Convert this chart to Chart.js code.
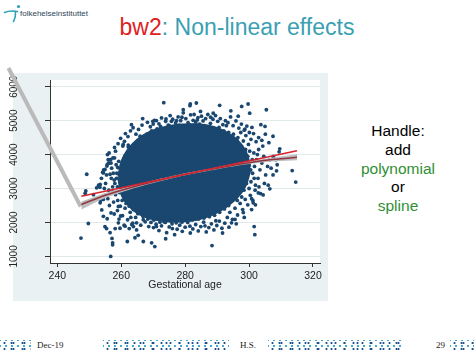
<!DOCTYPE html>
<html><head><meta charset="utf-8">
<script src="https://cdn.jsdelivr.net/npm/chart.js@4.4.1/dist/chart.umd.min.js"></script>
<style>
html,body{margin:0;padding:0;background:#fff;}
body{width:474px;height:355px;position:relative;overflow:hidden;font-family:"Liberation Sans",Arial,sans-serif;}
#panel{position:absolute;left:13px;top:73px;width:315px;height:228px;background:#eaf1f3;}
#c{position:absolute;left:0;top:0;}
#title{position:absolute;left:0;width:474px;top:15.5px;text-align:center;font-size:23px;line-height:23px;color:#3a9fb2;white-space:nowrap;}
#title .r{color:#e0201e;}
#logo{position:absolute;left:20px;top:9px;font-size:8px;line-height:10px;color:#2c4756;}
#side{position:absolute;left:338px;width:120px;top:122px;text-align:center;font-size:15.5px;line-height:18.8px;color:#000;}
#side .g{color:#2f8f34;}
.foot{position:absolute;top:340px;font-family:"Liberation Serif","Times New Roman",serif;font-size:9px;line-height:10px;color:#222;}
.dots{position:absolute;top:340px;height:11px;
 background-image:radial-gradient(circle,#1d4f8f 0.8px,transparent 1.3px),radial-gradient(circle,#43aacd 0.8px,transparent 1.3px),radial-gradient(circle,#1d4f8f 0.8px,transparent 1.3px);
 background-size:9px 6px,6px 6px,13px 6px;background-position:0 0,3px 3px,5px 0;}
</style></head>
<body>
<div id="panel"></div>
<svg style="position:absolute;left:3px;top:3px" width="18" height="20" viewBox="0 0 18 20">
 <circle cx="15.5" cy="3.5" r="1.6" fill="#2aa3b6"/>
 <path d="M1.5 9.5 Q7 7 14.5 8.5" stroke="#2aa3b6" stroke-width="1.6" fill="none" stroke-linecap="round"/>
 <path d="M12.5 8.5 Q13 14 10.5 18.5" stroke="#2aa3b6" stroke-width="1.6" fill="none" stroke-linecap="round"/>
</svg>
<div id="logo">folkehelseinstituttet</div>
<div id="title"><span class="r">bw2</span>: Non-linear effects</div>
<div id="side">Handle:<br>add<br><span class="g">polynomial</span><br>or<br><span class="g">spline</span></div>
<div class="dots" style="left:0;width:31px"></div>
<div class="foot" style="left:37px">Dec-19</div>
<div class="dots" style="left:103px;width:126px"></div>
<div class="foot" style="left:240px">H.S.</div>
<div class="dots" style="left:268px;width:134px"></div>
<div class="foot" style="left:436px">29</div>
<div class="dots" style="left:450px;width:24px"></div>
<canvas id="c" width="474" height="355"></canvas>
<script>
// ---- data ----
const xTicks = [240, 260, 280, 300, 320];
const yTicks = [1000, 2000, 3000, 4000, 5000, 6000];
const xTitle = 'Gestational age';

// dense core of the birthweight cloud (upper / lower outline)
const coreX   = [259, 260, 262, 265, 269, 274, 279, 284, 289, 293, 296.5, 299, 300.5];
const coreTop = [3350, 3800, 4150, 4450, 4680, 4830, 4890, 4900, 4820, 4660, 4420, 4100, 3650];
const coreBot = [3300, 2820, 2520, 2270, 2110, 2030, 2020, 2080, 2240, 2460, 2740, 3080, 3550];

// individual observations around the core
const obs = [
 [266.5,4870],[268.2,4950],[269.1,4820],[270.4,5010],[271.8,4905],[272.6,5080],[273.9,4980],[274.7,4870],[275.3,5150],[276.1,5040],
 [277.0,4930],[277.8,5110],[278.6,5000],[279.4,5230],[280.2,5060],[280.9,4940],[281.7,5170],[282.5,5010],[283.3,4960],[284.0,5090],
 [284.8,5270],[285.6,4990],[286.4,5060],[287.1,5180],[287.9,4920],[288.7,5040],[289.5,5150],[290.2,4980],[291.0,5060],[291.8,4880],
 [292.6,5000],[293.4,4940],[294.2,5110],[295.0,4850],[295.9,4990],[296.8,4780],[297.6,4900],[298.5,4720],[299.3,4840],[300.1,4650],
 [258.2,4100],[259.0,4320],[259.8,4480],[260.5,4250],[261.3,4620],[262.1,4530],[262.9,4700],[263.7,4790],[264.6,4600],[265.4,4740],
 [257.4,3900],[257.9,4210],[256.8,3750],[261.0,4390],[263.2,4880],
 [253.8,3300],[254.5,3550],[255.1,3150],[255.6,3700],[256.1,2950],[256.5,3420],[257.0,3600],[257.3,3050],[257.8,3250],[258.2,2820],
 [258.4,3700],[258.6,3450],[254.9,2800],[255.8,2700],[256.7,3850],[252.9,3100],[253.5,2650],[257.6,2600],[256.3,2500],[258.9,2650],
 [258.8,2350],[259.7,2480],[260.4,2200],[261.2,2420],[262.0,2080],[262.8,2300],[263.6,1980],[264.5,2150],[265.3,2270],[266.1,1920],
 [266.9,2080],[267.7,2200],[259.3,2100],[260.9,1920],[257.8,2250],[262.5,1820],[264.8,1780],[268.6,1880],
 [269.3,2000],[270.1,1850],[270.9,1950],[271.8,1760],[272.6,1900],[273.4,2020],[274.2,1700],[275.0,1870],[275.9,1960],[276.7,1640],
 [277.5,1800],[278.3,1920],[279.1,1740],[280.0,1860],[280.8,2000],[281.6,1690],[282.4,1810],[283.3,1940],[284.1,1750],[284.9,1880],
 [285.8,2010],[286.6,1720],[287.4,1850],[288.2,1960],[289.0,1780],[289.9,1910],[290.7,2040],[291.5,1830],
 [292.4,1980],[293.2,2150],[294.0,2300],[294.8,2090],[295.6,2420],[296.4,2220],[297.2,2560],[298.0,2380],[298.8,2680],[299.6,2520],
 [300.4,2800],[301.2,2650],[296.0,1960],[298.5,2150],[300.8,2380],[302.0,2520],[293.7,1860],
 [300.0,3000],[300.6,3200],[301.1,3450],[301.7,3650],[302.3,3850],[302.8,3300],[303.4,3550],[304.0,3750],[304.6,3950],[305.2,3400],
 [305.8,3650],[306.4,3850],[303.1,3050],[304.8,3150],[306.9,3600],[307.6,3900],[301.5,4050],[303.0,4150],[304.3,4250],[301.9,2950],
 [303.6,2850],[306.0,3100],
 [296.5,4500],[297.4,4650],[298.2,4400],[299.0,4560],[299.8,4300],[300.6,4450],[301.4,4620],[302.2,4380],[303.0,4500],[304.0,4420],
 [305.1,4600],[306.2,4350],[298.7,4750],[300.9,4800],
 [273.3,5530],[281.6,5490],[283.5,5520],[281.5,5440],[290.8,5450],[299.7,5490],[297.7,5420],[305.4,5320],[294.3,5290],[300.2,5220],
 [266.7,5060],[271.0,5000],[307.5,4540],[309.6,4170],[309.4,4080],[313.5,3530],[314.6,3190],[306.5,2990],[307.5,3400],[308.6,3520],
 [249.2,3420],[248.9,2930],[248.7,2860],[249.7,1970],[247.4,1540],[256.7,1000],[257.3,1400],[257.3,1340],[257.1,1530],[261.9,1440],
 [269.5,1400],[270.5,1290],[266.9,1440],[273.9,1520],[288.4,1320],[291.7,1690],[301.8,1640],[301.6,1880],[294.5,1990],[304.4,2810],
 [254.2,3480],[255.7,4000],[255.9,3850],[256.2,3750],[260.6,4300],[262.2,4280],[253.3,3040],[253.9,2370],[254.9,1880],[255.4,1820],
 [259.6,1830],[263.8,1880],[259.1,2470],[279.4,5320],[282.8,5180],[285.1,5130],[288.8,5220],[275.7,4980],[277.3,5000],[296.6,5130],
 [303.7,4880],[305.0,4830],[307.6,3950],[308.4,3850],[308.8,3700],[302.9,2870],[301.3,2580],[298.2,2290],[295.6,2090],
 [264.3,1550],[265.3,1620],[256.5,1700],[258.1,1820],[259.1,1990],[259.8,2190],[261.2,1890],[263.3,1940],[264.8,1990],
 [254.4,2180],[255.6,2110],[256.8,2280],[253.4,2580],[254.4,2680],[251.3,2820],[252.3,3020],[253.4,3120],
 [254.4,3460],[254.9,3560],[255.5,3660],[256.0,3750],[256.5,3850],[262.2,4220],[263.3,4190],[265.9,4540],[267.4,4490],[268.2,4590],
 [269.9,4980],
 [268.0,4600],[269.5,4700],[271.2,4760],[272.3,4830],[273.5,4760],[275.0,4850],[276.4,4800],[278.1,4870],[279.7,4820],[281.2,4890],
 [282.9,4850],[284.5,4900],[286.0,4850],[287.6,4810],[289.1,4760],[290.6,4800],[292.1,4700],[293.6,4650],[295.1,4600],[296.2,4420],
 [266.0,4450],[264.8,4300],[263.4,4150],[262.1,3980],[270.0,4900],[274.0,5050],[279.0,5100],[283.8,5020],[288.0,5100],[292.9,4850],
 [259.2,3800],[258.9,3620],[258.5,3300],[258.8,3050],[259.4,2880],[260.3,2650],[261.5,2560],[257.5,3450],[257.9,3900],[258.0,3150],
 [256.9,3300],[257.2,2900],[255.4,3400],[254.7,3000],[256.2,4050],
 [262.5,2480],[263.8,2380],[265.2,2260],[266.8,2180],[268.3,2100],[270.2,2070],[272.1,2010],[273.8,2000],[275.6,2030],[277.2,1990],
 [279.0,2010],[280.7,2060],[282.3,2080],[284.2,2100],[285.9,2130],[287.6,2170],[289.2,2210],[290.8,2300],[292.3,2400],[293.6,2500],
 [271.0,1880],[276.0,1820],[281.5,1890],[286.2,1900],[289.6,2050],[267.5,2020],[263.0,2150],
 [299.3,3350],[299.8,3700],[299.6,3950],[298.9,4150],[300.5,3550],[300.2,4100],[298.4,2950],[299.2,3150],[297.7,2750],[296.3,2650],
 [301.0,3850],[302.0,3100],[300.8,2700],[302.6,4000],[301.6,3300]
];

// linear fit (red)
const linX = [247.5, 315];
const linY = [2770, 4110];
// spline fit (maroon) and its confidence band
const fitX  = [247.5, 255, 262, 270, 280, 290, 300, 308, 315];
const fitY  = [2530, 2800, 3000, 3200, 3420, 3600, 3760, 3860, 3920];
const bandHi = [2620, 2870, 3050, 3240, 3450, 3630, 3800, 3920, 4010];
const bandLo = [2380, 2720, 2950, 3160, 3390, 3570, 3720, 3800, 3830];
// band running off the plot region to the upper left
const extX = [224.7, 247.3];
const extY = [6550, 2470];

const NAVY = '#1a476f';
const pts = (xs, ys) => xs.map((x, i) => ({x, y: ys[i]}));

const plotBg = {
  id: 'plotBg',
  beforeDraw(chart) {
    const {ctx, chartArea: a} = chart;
    ctx.save(); ctx.fillStyle = '#ffffff';
    ctx.fillRect(a.left, a.top, a.right - a.left, a.bottom - a.top);
    ctx.restore();
  }
};

const FONT = '"Liberation Sans", Arial, sans-serif';

new Chart(document.getElementById('c'), {
  type: 'line',
  data: {
    datasets: [
      {data: pts(coreX, coreTop), borderColor: NAVY, borderWidth: 1.5, pointRadius: 0, fill: false, tension: 0.35, order: 20},
      {data: pts(coreX, coreBot), borderColor: NAVY, borderWidth: 1.5, pointRadius: 0, fill: 0, backgroundColor: NAVY, tension: 0.35, order: 19},
      {data: obs.map(p => ({x: p[0], y: p[1]})), showLine: false, pointRadius: 1.9, pointBackgroundColor: NAVY, pointBorderWidth: 0, order: 15},
      {data: pts(fitX, bandHi), borderWidth: 0, borderColor: 'rgba(0,0,0,0)', pointRadius: 0, fill: false, tension: 0.3, order: 10},
      {data: pts(fitX, bandLo), borderWidth: 0, borderColor: 'rgba(0,0,0,0)', pointRadius: 0, fill: 3, backgroundColor: '#bdbdbd', tension: 0.3, order: 9},
      {data: pts(extX, extY), borderColor: '#bababa', borderWidth: 4, pointRadius: 0, fill: false, clip: false, order: 8},
      {data: pts(fitX, fitY), borderColor: '#8e3541', borderWidth: 1.5, pointRadius: 0, fill: false, tension: 0.3, order: 2},
      {data: pts(linX, linY), borderColor: '#d8232e', borderWidth: 1.5, pointRadius: 0, fill: false, order: 1}
    ]
  },
  options: {
    responsive: false,
    devicePixelRatio: 1,
    animation: false,
    events: [],
    layout: {padding: {left: 0, top: 80, right: 154, bottom: 60}},
    plugins: {legend: {display: false}, tooltip: {enabled: false}},
    scales: {
      x: {
        type: 'linear', min: 237.7, max: 322.2,
        afterBuildTicks: s => { s.ticks = xTicks.map(v => ({value: v})); },
        afterFit: s => { s.height = 32; },
        ticks: {font: {family: FONT, size: 10.5}, color: '#222', padding: 3, maxRotation: 0, autoSkip: false, callback: v => String(v)},
        grid: {drawOnChartArea: false, tickLength: 4, tickColor: '#333'},
        border: {color: '#333', width: 1},
        title: {display: true, text: xTitle, font: {family: FONT, size: 10.5}, color: '#222', padding: {top: 0, bottom: 3.5}}
      },
      y: {
        type: 'linear', min: 806, max: 6197,
        afterBuildTicks: s => { s.ticks = yTicks.map(v => ({value: v})); },
        afterFit: s => { s.width = 50; },
        ticks: {font: {family: FONT, size: 10}, color: '#222', minRotation: 90, maxRotation: 90, crossAlign: 'center', padding: 19.5, autoSkip: false, callback: v => String(v)},
        grid: {color: '#e1e9eb', tickLength: 5, tickColor: '#333'},
        border: {color: '#333', width: 1}
      }
    }
  },
  plugins: [plotBg]
});
</script>
</body></html>
